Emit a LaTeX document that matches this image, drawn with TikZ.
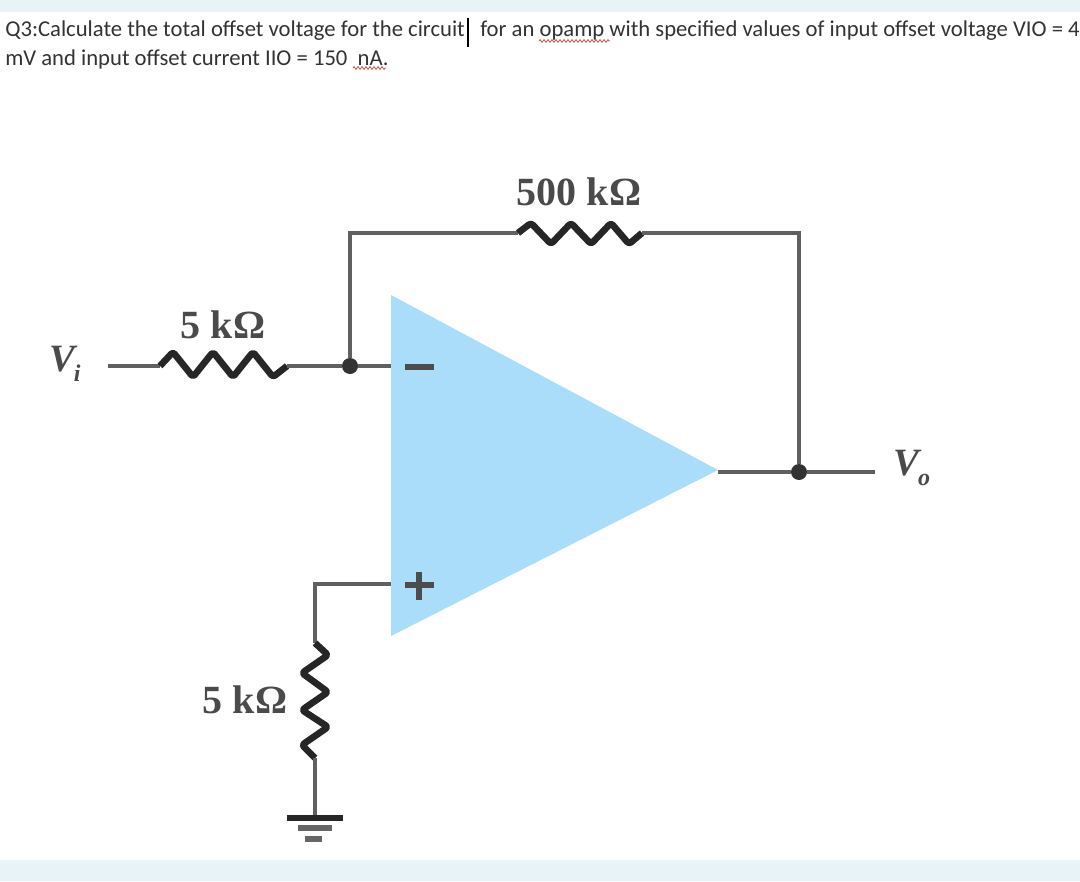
\documentclass[tikz,border=0pt]{standalone}
\usepackage{fontspec}
\setmainfont{Carlito}
\newfontfamily\labelfont{Liberation Serif}
\usetikzlibrary{decorations.pathmorphing}
\definecolor{pagebg}{HTML}{E8F3F7}
\definecolor{opampblue}{HTML}{A9DDF9}
\definecolor{wiregray}{HTML}{606060}
\definecolor{labelgray}{HTML}{4A4A4A}
\definecolor{spellred}{HTML}{C0504D}
\tikzset{
    wire/.style={color=wiregray,line width=2.5pt},
    resistor/.style={color=black!85,line width=5pt,line join=round,rounded corners=2pt},
    dotnode/.style={circle,fill=black!80,inner sep=0pt,minimum size=12pt},
    valuelabel/.style={color=labelgray,font=\labelfont\bfseries\fontsize{30}{30}\selectfont,inner sep=0pt},
    signallabel/.style={color=labelgray,font=\labelfont\bfseries\itshape\fontsize{29}{29}\selectfont,inner sep=0pt},
    rowtext/.style={anchor=base west,inner sep=0pt,color=black!80,font=\fontsize{17}{17}\selectfont},
    squiggle/.style={color=spellred,line width=0.6pt,decorate,decoration={zigzag,amplitude=1pt,segment length=3pt}}
}
\begin{document}
\begin{tikzpicture}[x=0.75pt,y=-0.75pt]
    \useasboundingbox (0,0) rectangle (1080,881);
    \fill [pagebg] (0,0) rectangle (1080,881);
    \fill [white] (0,12) rectangle (1080,860);
    % question text
    \node [rowtext] (rowa) at (5,37) {Q3:Calculate the total offset voltage for the circuit};
    \node [rowtext] (rowb) at (480,37) {for an opamp with specified values of input offset voltage VIO = 4};
    \node [rowtext] (rowc) at (5,65) {mV and input offset current IIO = 150\ \ nA.};
    \draw [line width=1.6pt,black] (468,18)--(468,47);
    \draw [squiggle] (539,41)--(610,41);
    \draw [squiggle] (353,68)--(386,68);
    % opamp
    \coordinate (inminus) at (391,366);
    \coordinate (inplus) at (391,584);
    \coordinate (outtip) at (718,472);
    \fill [opampblue] (391,295)--(718,470)--(391,636)--cycle;
    \draw [line width=4pt,color=black!70] (405,367)--(434,367);
    \draw [line width=4pt,color=black!70] (405,585)--(434,585) (419,572)--(419,600);
    % input side
    \coordinate (rinleft) at (160,366);
    \coordinate (rinright) at (287,366);
    \node [dotnode] (junctin) at (350,366) {};
    \node [valuelabel] (rinlabel) at (223,325) {5 kΩ};
    \node [signallabel] (vilabel) at (65,364) {V\kern-1pt\raisebox{-7pt}{\fontsize{18}{18}\selectfont i}};
    \coordinate (vistart) at (108,366);
    \draw [wire] (vistart)--(rinleft);
    \draw [resistor] (rinleft)--(173,352)--(193,377)--(213,352)--(233,377)--(253,352)--(273,377)--(rinright);
    \draw [wire] (rinright)--(junctin)--(inminus);
    % feedback
    \coordinate (rfleft) at (518,233);
    \coordinate (rfright) at (642,233);
    \node [dotnode] (junctout) at (799,472) {};
    \node [valuelabel] (rflabel) at (579,192) {500 kΩ};
    \draw [wire] (junctin)--(350,233)--(rfleft);
    \draw [resistor] (rfleft)--(531,223)--(551,244)--(571,223)--(591,244)--(611,223)--(629,244)--(rfright);
    \draw [wire] (rfright)--(799,233)--(junctout);
    % output
    \coordinate (voend) at (875,472);
    \node [signallabel] (volabel) at (912,468) {V\kern-1pt\raisebox{-7pt}{\fontsize{18}{18}\selectfont o}};
    \draw [wire] (outtip)--(junctout)--(voend);
    % noninverting input and ground
    \coordinate (rgtop) at (315,643);
    \coordinate (rgbot) at (315,758);
    \coordinate (gnd) at (315,818);
    \node [valuelabel] (rglabel) at (245,700) {5 kΩ};
    \draw [wire] (inplus)--(315,584)--(rgtop);
    \draw [resistor] (rgtop)--(328,655)--(302,673)--(328,692)--(302,710)--(328,727)--(302,745)--(rgbot);
    \draw [wire] (rgbot)--(gnd);
    \draw [line width=5pt,black!85] (287,818)--(343,818);
    \draw [line width=4pt,black!60] (298,828)--(332,828);
    \draw [line width=4pt,black!60] (305,839)--(322,839);
\end{tikzpicture}
\end{document}
